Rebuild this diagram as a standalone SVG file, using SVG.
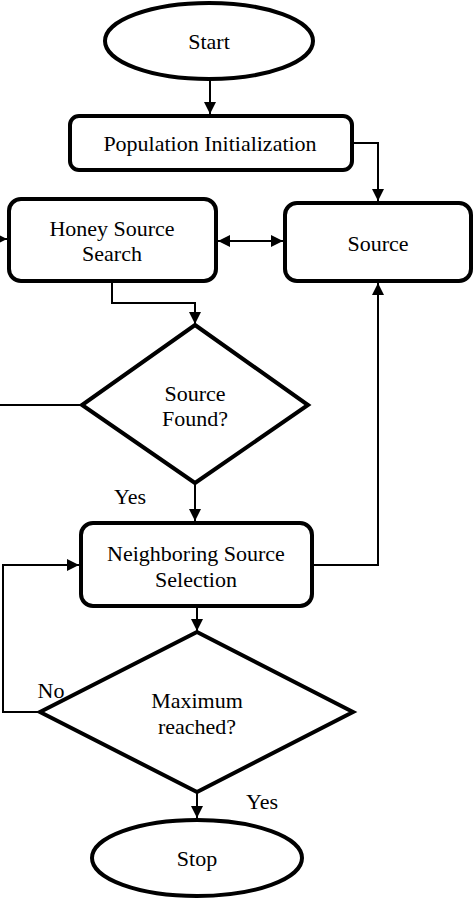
<svg xmlns="http://www.w3.org/2000/svg" width="474" height="898" viewBox="0 0 474 898">
<style>
.n{fill:#fff;stroke:#000;stroke-width:4}
.t{font-family:'Liberation Serif','Times New Roman',serif;font-size:22px;fill:#000;text-anchor:middle}
.c{fill:none;stroke:#000;stroke-width:2}
</style>
<defs>
<marker id="a" viewBox="0 0 10 10" refX="10" refY="5" markerWidth="6.5" markerHeight="6" orient="auto-start-reverse" markerUnits="strokeWidth">
<path d="M0,0 L10,5 L0,10 z" fill="#000"/>
</marker>
</defs>
<rect width="474" height="898" fill="#fff"/>
<g id="connectors">
<path class="c" d="M210,79 V114" marker-end="url(#a)"/>
<path class="c" d="M352,143 H378 V201" marker-end="url(#a)"/>
<path class="c" d="M218,241 H283" marker-start="url(#a)" marker-end="url(#a)"/>
<path class="c" d="M112,282 V303 H195 V324" marker-end="url(#a)"/>
<path class="c" d="M82,405 H0"/>
<path class="c" d="M0,239 H7" marker-end="url(#a)"/>
<path class="c" d="M195,483 V521" marker-end="url(#a)"/>
<path class="c" d="M312,565 H378 V283" marker-end="url(#a)"/>
<path class="c" d="M197,606 V631" marker-end="url(#a)"/>
<path class="c" d="M40,712 H3 V565 H79" marker-end="url(#a)"/>
<path class="c" d="M197,792 V818" marker-end="url(#a)"/>
<text class="t" x="130" y="504">Yes</text>
<text class="t" x="51" y="698">No</text>
<text class="t" x="262" y="809">Yes</text>
</g>
<g id="start">
<ellipse class="n" cx="209" cy="41" rx="104" ry="38"/>
<text class="t" x="209" y="49">Start</text>
</g>
<g id="pop">
<rect class="n" x="70" y="116" width="282" height="54" rx="9"/>
<text class="t" x="210" y="151">Population Initialization</text>
</g>
<g id="honey">
<rect class="n" x="9" y="199" width="207" height="82" rx="12"/>
<text class="t" x="112" y="236">Honey Source</text>
<text class="t" x="112" y="261">Search</text>
</g>
<g id="source">
<rect class="n" x="285" y="203" width="186" height="78" rx="12"/>
<text class="t" x="378" y="251">Source</text>
</g>
<g id="found">
<polygon class="n" points="195,325 308,405 195,483 82,405"/>
<text class="t" x="195" y="401">Source</text>
<text class="t" x="195" y="426">Found?</text>
</g>
<g id="neighbor">
<rect class="n" x="81" y="523" width="231" height="83" rx="12"/>
<text class="t" x="196" y="561">Neighboring Source</text>
<text class="t" x="196" y="587">Selection</text>
</g>
<g id="maximum">
<polygon class="n" points="197,632 353,712 197,792 40,712"/>
<text class="t" x="197" y="708">Maximum</text>
<text class="t" x="197" y="734">reached?</text>
</g>
<g id="stop">
<ellipse class="n" cx="197" cy="858" rx="105" ry="38"/>
<text class="t" x="197" y="866">Stop</text>
</g>
</svg>
